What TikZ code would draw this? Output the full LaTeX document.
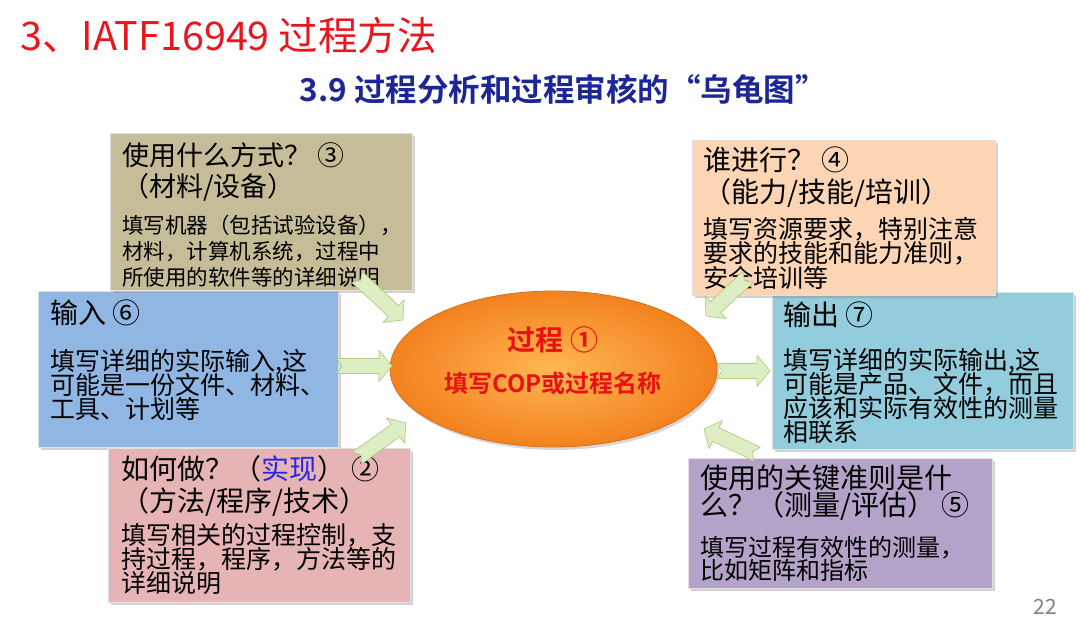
\documentclass[tikz,border=0pt]{standalone}
\usepackage{fontspec}
\setmainfont{Noto Sans CJK SC}[BoldFont={Noto Sans CJK SC Bold}]
\usetikzlibrary{shapes.geometric,shadows,calc}
\definecolor{titlered}{RGB}{232,22,30}
\definecolor{subblue}{RGB}{28,38,150}
\definecolor{implblue}{RGB}{40,40,225}
\definecolor{cthree}{RGB}{196,189,151}
\definecolor{cfour}{RGB}{252,213,181}
\definecolor{csix}{RGB}{144,182,228}
\definecolor{cseven}{RGB}{147,205,221}
\definecolor{ctwo}{RGB}{230,180,180}
\definecolor{cfive}{RGB}{180,163,200}
\definecolor{boxline}{RGB}{225,225,225}
\definecolor{arrfill}{RGB}{222,238,196}
\definecolor{arrline}{RGB}{178,204,128}
\definecolor{ellin}{RGB}{255,182,84}
\definecolor{ellout}{RGB}{242,130,30}
\definecolor{elline}{RGB}{215,110,30}
\definecolor{ellred}{RGB}{232,18,18}
\definecolor{pagegray}{RGB}{128,128,128}
\setlength{\lineskiplimit}{-100pt}
\tikzset{
  boxstyle/.style={draw=boxline, line width=0.8pt, inner sep=0pt,
    drop shadow={shadow xshift=2.5pt, shadow yshift=-3pt, opacity=0.35}},
  hd/.style={anchor=north west, inner sep=0pt, align=left, text=black},
  bd/.style={anchor=north west, inner sep=0pt, align=left, text=black},
  barrow/.style={draw=arrline, fill=arrfill, line width=0.7pt, line join=round,
    to path={let \p1=(\tikztostart), \p2=(\tikztotarget),
      \n1={atan2(\y2-\y1,\x2-\x1)}, \n2={veclen(\x2-\x1,\y2-\y1)} in
      ([shift={(\p1)},rotate=\n1]0,7.5)
      -- ([shift={(\p1)},rotate=\n1]{\n2-13},7.5)
      -- ([shift={(\p1)},rotate=\n1]{\n2-13},15.5)
      -- ([shift={(\p1)},rotate=\n1]{\n2},0)
      -- ([shift={(\p1)},rotate=\n1]{\n2-13},-15.5)
      -- ([shift={(\p1)},rotate=\n1]{\n2-13},-7.5)
      -- ([shift={(\p1)},rotate=\n1]0,-7.5)
      -- ([shift={(\p1)},rotate=\n1]5,0) -- cycle}}
}
\begin{document}
\begin{tikzpicture}[x=1pt,y=1pt]
\useasboundingbox (0,0) rectangle (1080,630);
\fill[white] (0,0) rectangle (1080,630);

% titles
\node[anchor=west, inner sep=0pt, text=titlered, font=\fontsize{39.5}{42}\selectfont] (title) at (20,595) {3、IATF16949 过程方法};
\node[inner sep=0pt, text=subblue, font=\bfseries\fontsize{31.5}{33}\selectfont] (subtitle) at (563,541) {3.9 过程分析和过程审核的“乌龟图”};

% boxes
\node[boxstyle, fill=cseven, minimum width=301, minimum height=157] (box7) at (922.5,259.5) {};
\node[boxstyle, fill=csix, minimum width=300, minimum height=156] (box6) at (188,261) {};
\node[boxstyle, fill=cthree, minimum width=302, minimum height=157] (box3) at (261,418.5) {};
\node[boxstyle, fill=cfour, minimum width=303, minimum height=155] (box4) at (843.5,412.5) {};
\node[boxstyle, fill=ctwo, minimum width=302, minimum height=154] (box2) at (259,105) {};
\node[boxstyle, fill=cfive, minimum width=304, minimum height=130] (box5) at (840,107) {};

% box texts
\node[hd, font=\fontsize{27}{31}\selectfont] (h3) at (122,488) {使用什么方式？ ③\\（材料/设备）};
\node[bd, font=\fontsize{21.5}{26}\selectfont] (t3) at (122,415) {填写机器（包括试验设备），\\材料，计算机系统，过程中\\所使用的软件等的详细说明};

\node[hd, font=\fontsize{28}{32}\selectfont] (h4) at (703,483) {谁进行？ ④\\（能力/技能/培训）};
\node[bd, font=\fontsize{25}{24.5}\selectfont] (t4) at (703,413) {填写资源要求，特别注意\\要求的技能和能力准则，\\安全培训等};

\node[hd, font=\fontsize{28}{32}\selectfont] (h6) at (50,330) {输入 ⑥};
\node[bd, font=\fontsize{25}{24}\selectfont] (t6) at (50,281) {填写详细的实际输入,这\\可能是一份文件、材料、\\工具、计划等};

\node[hd, font=\fontsize{28}{32}\selectfont] (h7) at (783,328) {输出 ⑦};
\node[bd, font=\fontsize{25}{24}\selectfont] (t7) at (783,282) {填写详细的实际输出,这\\可能是产品、文件，而且\\应该和实际有效性的测量\\相联系};

\node[hd, font=\fontsize{28}{32}\selectfont] (h2) at (121,175) {如何做？（\textcolor{implblue}{实现}） ②\\（方法/程序/技术）};
\node[bd, font=\fontsize{25}{24}\selectfont] (t2) at (121,107) {填写相关的过程控制，支\\持过程，程序，方法等的\\详细说明};

\node[hd, font=\fontsize{28}{27}\selectfont] (h5) at (700,165) {使用的关键准则是什\\么？（测量/评估） ⑤};
\node[bd, font=\fontsize{24}{23}\selectfont] (t5) at (700,94) {填写过程有效性的测量，\\比如矩阵和指标};

% process ellipse
\node[ellipse, draw=elline, line width=0.8pt, inner color=ellin, outer color=ellout,
  minimum width=327, minimum height=156, inner sep=0pt,
  drop shadow={shadow xshift=2pt, shadow yshift=-3pt, opacity=0.3}] (proc) at (553.5,261) {};
\node[inner sep=0pt, text=ellred, font=\bfseries\fontsize{28}{30}\selectfont] (pl1) at (553,290) {过程 ①};
\node[inner sep=0pt, text=ellred, font=\bfseries\fontsize{24}{26}\selectfont] (pl2) at (553,247) {填写COP或过程名称};

% arrow end points
\coordinate (a3t) at (357,353);  \coordinate (a3h) at (403,310);
\coordinate (a6t) at (337,264);  \coordinate (a6h) at (392,264);
\coordinate (a2t) at (357,172);  \coordinate (a2h) at (406,207);
\coordinate (a4t) at (748,353);  \coordinate (a4h) at (706,314);
\coordinate (a7t) at (717,259);  \coordinate (a7h) at (770,259);
\coordinate (a5t) at (757,176);  \coordinate (a5h) at (704,201);

\draw[barrow] (a3t) to (a3h);
\draw[barrow] (a6t) to (a6h);
\draw[barrow] (a2t) to (a2h);
\draw[barrow] (a4t) to (a4h);
\draw[barrow] (a7t) to (a7h);
\draw[barrow] (a5t) to (a5h);

% page number
\node[inner sep=0pt, text=pagegray, font=\fontsize{21}{23}\selectfont] (pagenum) at (1045,23) {22};
\end{tikzpicture}
\end{document}
